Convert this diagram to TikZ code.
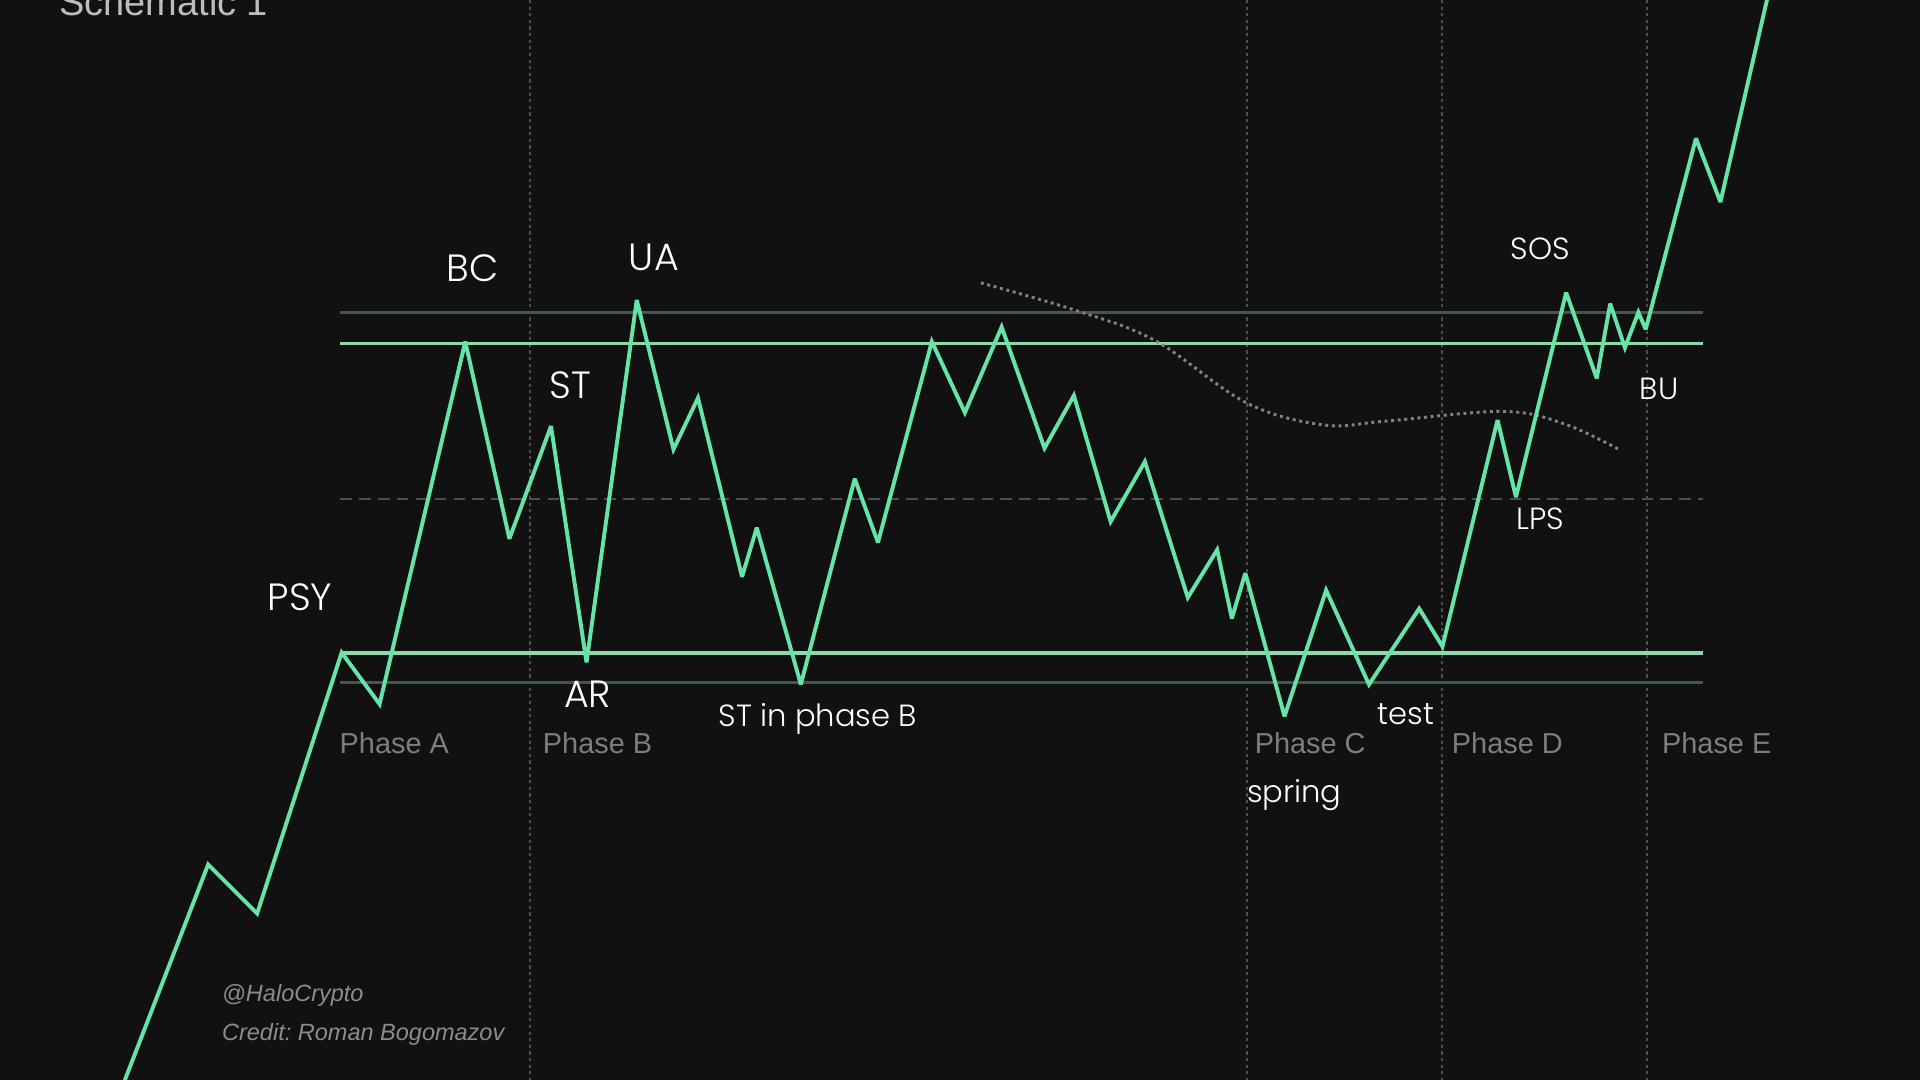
\documentclass[tikz,border=0pt]{standalone}
\usepackage{fontspec}
\setmainfont{Poppins}
\newfontfamily\lblfont{Poppins}[UprightFont={* Light}]
\newfontfamily\phasefont{Liberation Sans}
\usepackage{xcolor}
\frenchspacing
\definecolor{bg}{HTML}{111111}
\definecolor{mint}{HTML}{66E3A6}
\definecolor{band}{HTML}{8FD8AC}
\definecolor{bandfaint}{HTML}{3E5A4C}
\definecolor{grid}{HTML}{4E4E4E}
\definecolor{trailgray}{HTML}{828282}
\definecolor{phasegray}{HTML}{7E7E7E}
\definecolor{credit}{HTML}{8C8C8C}
\definecolor{title}{HTML}{BDBDBD}
\tikzset{
  price/.style={draw=mint, line width=1.6pt, line join=miter, miter limit=3, line cap=round},
  rangeline/.style={draw=band, line width=1.6pt},
  rangefaint/.style={draw=bandfaint, line width=1.2pt},
  midline/.style={draw=grid, line width=1.1pt, dash pattern=on 4.7pt off 3pt},
  vgrid/.style={draw=grid, line width=0.8pt, dash pattern=on 1.3pt off 1.4pt},
  trailline/.style={draw=trailgray, line width=1.2pt, dash pattern=on 1.2pt off 1.5pt},
  lab/.style={text=white, font=\lblfont\fontsize{15.5}{18}\selectfont},
  labs/.style={text=white, font=\lblfont\fontsize{12.5}{15}\selectfont},
  phase/.style={text=phasegray, font=\phasefont\fontsize{11.8}{14}\selectfont},
  cred/.style={text=credit, anchor=west, inner sep=0pt, font=\phasefont\itshape\fontsize{9.6}{12}\selectfont},
}
\begin{document}
\begin{tikzpicture}[x=0.5pt,y=-0.5pt]
  \useasboundingbox (0,0) rectangle (1568,882);
  \fill[bg] (0,0) rectangle (1568,882);
  \clip (0,0) rectangle (1568,882);

  % phase separators
  \foreach \x in {433,1018,1178,1345}{
    \draw[vgrid] (\x,0) -- (\x,882);
  }

  % trading range
  \draw[rangefaint] (278,255) -- (1391,255);
  \draw[rangefaint] (278,557.5) -- (1391,557.5);
  \draw[midline] (278,407.5) -- (1391,407.5);
  \draw[rangeline] (278,280.5) -- (1391,280.5);
  \draw[rangeline] (278,533.5) -- (1391,533.5);

  % dotted trail
  \draw[trailline] plot[smooth,tension=0.6] coordinates {(801,231) (877,253) (943,278) (1018,329) (1081,347) (1131,344) (1227,336) (1277,346) (1322,367)};

  % price
  \foreach \i/\x/\y in {0/102/882, 1/170/706, 2/210/746, 3/279/533, 4/310/575,
    5/380/279, 6/416/440, 7/450/348, 8/479/541, 9/520/245, 10/550/367,
    11/570/325, 12/606/471, 13/618/431, 14/654/559, 15/698/391, 16/717/443,
    17/761/279, 18/788/337, 19/818/267, 20/853/366, 21/877/323, 22/907/426,
    23/935/377, 24/970/488, 25/994/449, 26/1006/505, 27/1017/468, 28/1049/585,
    29/1083/482, 30/1118/559, 31/1159/497, 32/1178/528, 33/1223/343, 34/1238/406,
    35/1279/239, 36/1304/309, 37/1315/248, 38/1327/284, 39/1338/255, 40/1344/269,
    41/1385/113, 42/1405/165, 43/1443/0}{
    \coordinate (p\i) at (\x,\y);
  }
  \draw[price] (p0) \foreach \i in {1,...,43}{ -- (p\i) };

  % events
  \node[lab] (psy) at (245,488) {PSY};
  \node[lab] (bc) at (386,219) {BC};
  \node[lab] (ua) at (534,210) {UA};
  \node[lab] (st) at (466,315) {ST};
  \node[lab] (ar) at (480,567) {AR};
  \node[labs] (stb) at (668,587) {ST in phase B};
  \node[labs] (spring) at (1057,649) {spring};
  \node[labs] (test) at (1148,583) {test};
  \node[labs] (sos) at (1258,203) {SOS};
  \node[labs] (lps) at (1258,424) {LPS};
  \node[labs] (bu) at (1355,318) {BU};

  \foreach \n/\x in {A/322,B/488,C/1070,D/1231,E/1402}{
    \node[phase] (phase\n) at (\x,607) {Phase \n};
  }

  \node[cred] (handle) at (181,813) {@HaloCrypto};
  \node[cred] (credit) at (181,845) {Credit: Roman Bogomazov};
  \node[text=title, anchor=base west, inner sep=0pt, font=\phasefont\fontsize{15.5}{18}\selectfont] (head) at (48,13) {Schematic 1};
\end{tikzpicture}
\end{document}
